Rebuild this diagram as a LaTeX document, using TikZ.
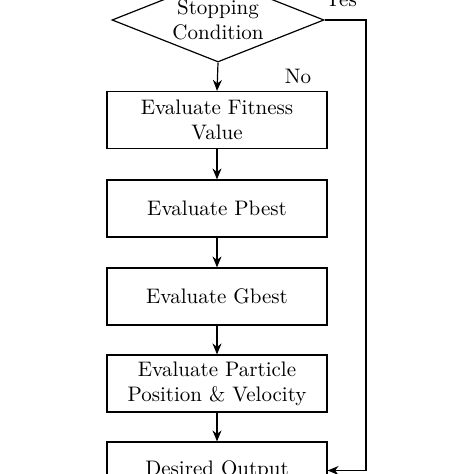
\documentclass[tikz,border=0pt]{standalone}
\usetikzlibrary{shapes.geometric,arrows.meta}
\begin{document}
\begin{tikzpicture}[x=0.5pt,y=-0.5pt,
  every node/.style={font=\fontsize{10.5}{12.5}\selectfont},
  procbox/.style={draw, line width=0.6pt, minimum width=110pt, minimum height=28.5pt, align=center, inner sep=0pt},
  decbox/.style={draw, line width=0.6pt, shape=diamond, aspect=2.5, inner sep=0pt, minimum width=106pt, minimum height=42pt, align=center},
  arr/.style={line width=0.6pt, -{Stealth[length=5.5pt,width=4.5pt]}},
  lbl/.style={inner sep=0pt}]
\useasboundingbox (0,0) rectangle (474,474);
\clip (0,0) rectangle (474,474);
\node[decbox] (d) at (218,20) {Stopping\\Condition};
\node[procbox] (b1) at (217,120) {Evaluate Fitness\\Value};
\node[procbox] (b2) at (217,208.5) {Evaluate Pbest};
\node[procbox] (b3) at (217,296.5) {Evaluate Gbest};
\node[procbox] (b4) at (217,383.5) {Evaluate Particle\\Position \& Velocity};
\node[procbox] (b5) at (217,470.5) {Desired Output};
\coordinate (rx) at (366,0);
\draw[arr] (d.south) -- (b1.north);
\draw[arr] (b1.south) -- (b2.north);
\draw[arr] (b2.south) -- (b3.north);
\draw[arr] (b3.south) -- (b4.north);
\draw[arr] (b4.south) -- (b5.north);
\draw[arr] (d.east) -| (rx |- b5.east) -- (b5.east);
\node[lbl] (no) at (298,76) {No};
\node[lbl] (yes) at (341,-1) {Yes};
\end{tikzpicture}
\end{document}
